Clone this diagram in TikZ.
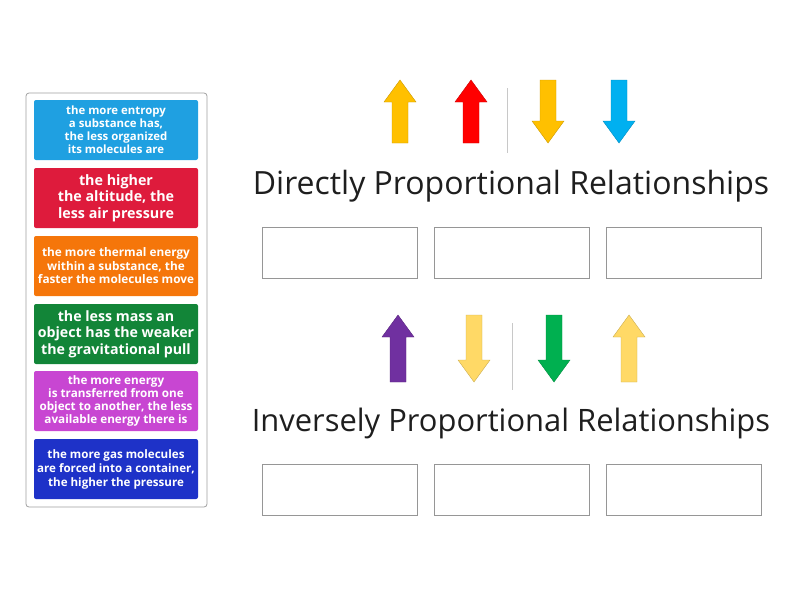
\documentclass[tikz,border=0pt]{standalone}
\usepackage{fontspec}
\setmainfont{Open Sans}
\tikzset{every picture/.style={line width=0.75pt}}
\definecolor{cBlue}{RGB}{31,160,225}
\definecolor{cRed}{RGB}{222,27,60}
\definecolor{cOrange}{RGB}{245,118,10}
\definecolor{cGreen}{RGB}{18,133,56}
\definecolor{cMagenta}{RGB}{200,70,210}
\definecolor{cNavy}{RGB}{30,50,200}
\definecolor{aGold}{RGB}{255,192,0}
\definecolor{aRed}{RGB}{255,0,0}
\definecolor{aSky}{RGB}{0,176,240}
\definecolor{aPurple}{RGB}{112,48,160}
\definecolor{aPale}{RGB}{255,217,102}
\definecolor{aGreen}{RGB}{0,176,80}
\tikzset{
  card/.style={rounded corners=2pt, minimum width=164pt, minimum height=60pt, text=white, align=center, inner sep=0pt, font=\bfseries},
  slot/.style={draw={rgb,255:red,150;green,150;blue,150}, line width=0.8pt, minimum width=155pt, minimum height=51pt, inner sep=0pt},
  title/.style={font=\fontsize{32}{36}\selectfont, text={rgb,255:red,30;green,30;blue,30}},
  sep/.style={draw={rgb,255:red,200;green,200;blue,200}, line width=0.8pt}
}
% up arrow: centre x, top y, bottom y, colour
\newcommand\uparr[4]{\draw[fill=#4, draw=#4!80!black, line width=0.4pt] (#1,#2) -- (#1+16,#2+22) -- (#1+8,#2+22) -- (#1+8,#3) -- (#1-8,#3) -- (#1-8,#2+22) -- (#1-16,#2+22) -- cycle;}
\newcommand\downarr[4]{\draw[fill=#4, draw=#4!80!black, line width=0.4pt] (#1,#3) -- (#1+16,#3-22) -- (#1+8,#3-22) -- (#1+8,#2) -- (#1-8,#2) -- (#1-8,#3-22) -- (#1-16,#3-22) -- cycle;}
\begin{document}
\begin{tikzpicture}[x=1pt,y=1pt,yscale=-1]
\useasboundingbox (0,0) rectangle (800,600);

%Left panel
\draw[draw={rgb,255:red,160;green,160;blue,160}, line width=0.8pt, rounded corners=3pt] (26,93) rectangle (207,507);
\node[card, fill=cBlue, font=\bfseries\fontsize{11.4}{13}\selectfont] (c1) at (116,130) {the more entropy\\a substance has,\\the less organized\\its molecules are};
\node[card, fill=cRed, font=\bfseries\fontsize{14.3}{16.5}\selectfont] (c2) at (116,198) {the higher\\the altitude, the\\less air pressure};
\node[card, fill=cOrange, font=\bfseries\fontsize{11.8}{13.5}\selectfont] (c3) at (116,266) {the more thermal energy\\within a substance, the\\faster the molecules move};
\node[card, fill=cGreen, font=\bfseries\fontsize{14.2}{16.5}\selectfont] (c4) at (116,334) {the less mass an\\object has the weaker\\the gravitational pull};
\node[card, fill=cMagenta, font=\bfseries\fontsize{11.7}{13.3}\selectfont] (c5) at (116,401) {the more energy\\is transferred from one\\object to another, the less\\available energy there is};
\node[card, fill=cNavy, font=\bfseries\fontsize{11.6}{14}\selectfont] (c6) at (116,469) {the more gas molecules\\are forced into a container,\\the higher the pressure};

%Top arrows
\uparr{400}{80}{143}{aGold}
\uparr{471}{80}{143}{aRed}
\draw[sep] (507,88) -- (507,153);
\downarr{548}{80}{143}{aGold}
\downarr{619}{80}{143}{aSky}

\node[title] (t1) at (511,186) {Directly Proportional Relationships};
\node[slot] (s1) at (340,253) {};
\node[slot] (s2) at (511.5,253) {};
\node[slot] (s3) at (683.5,253) {};

%Bottom arrows
\uparr{398}{315}{382}{aPurple}
\downarr{474}{315}{382}{aPale}
\draw[sep] (512,323) -- (512,390);
\downarr{554}{315}{382}{aGreen}
\uparr{629}{315}{382}{aPale}

\node[title, font=\fontsize{30.9}{36}\selectfont] (t2) at (511,423) {Inversely Proportional Relationships};
\node[slot] (s4) at (340,490) {};
\node[slot] (s5) at (511.5,490) {};
\node[slot] (s6) at (683.5,490) {};
\end{tikzpicture}
\end{document}
